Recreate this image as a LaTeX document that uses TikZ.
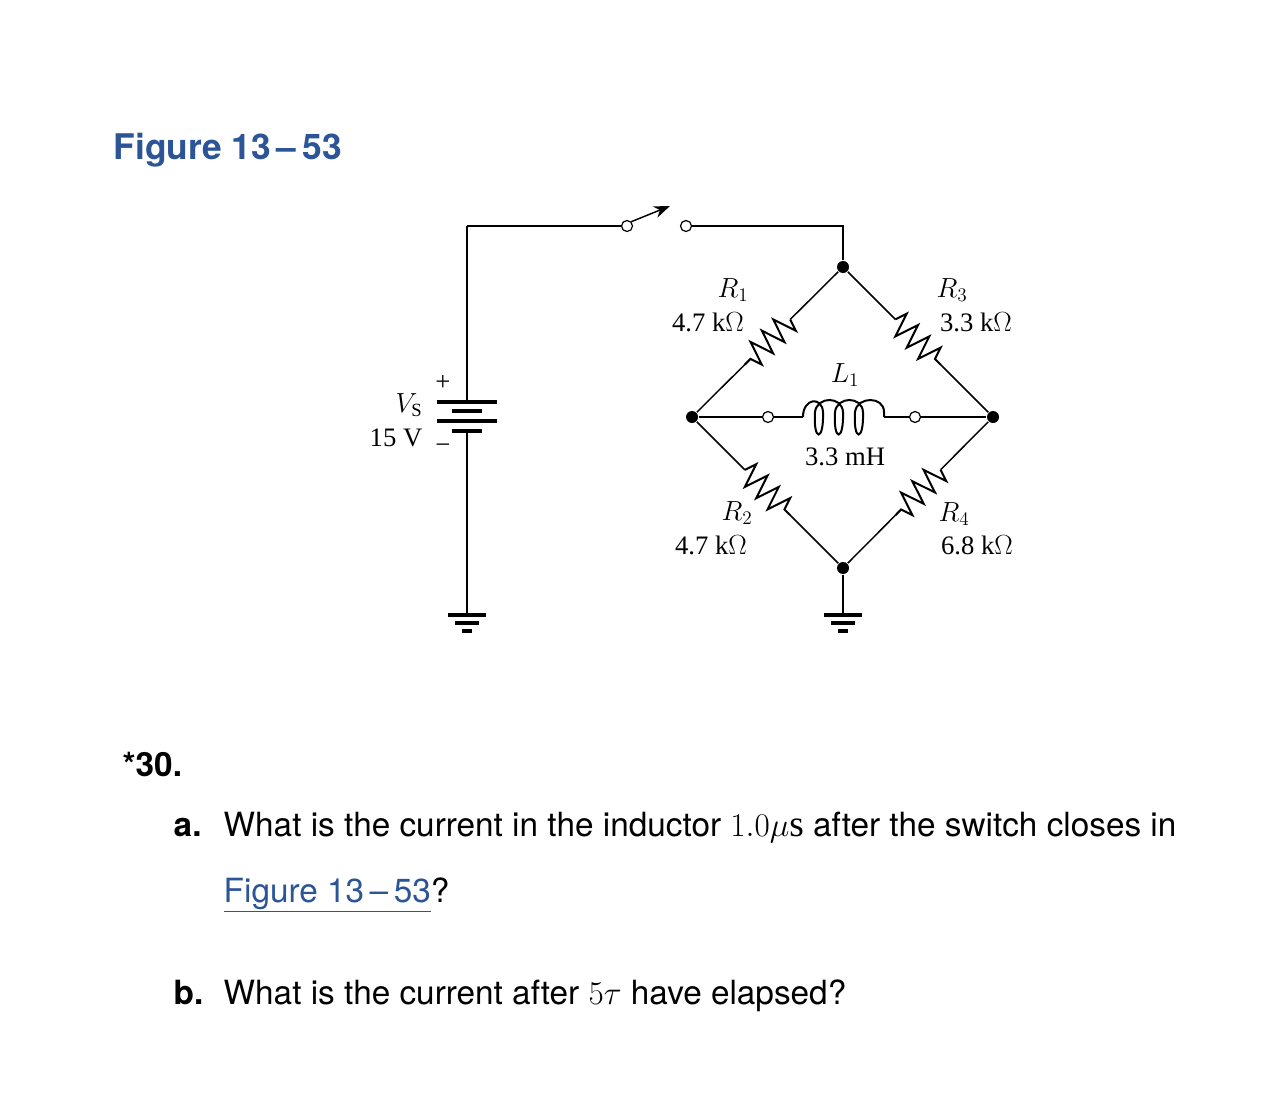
\documentclass[tikz,border=0pt]{standalone}
\usepackage{fontspec}
\setmainfont{Liberation Serif}
\newfontfamily\sans{TeX Gyre Heros}
\usetikzlibrary{calc,decorations.pathmorphing,arrows.meta}
\definecolor{fblue}{HTML}{2B5597}
\begin{document}
\begin{tikzpicture}[x=0.75pt,y=-0.75pt,line width=1.1pt,
  dot/.style={circle,fill=black,inner sep=0pt,minimum size=12pt*0.75},
  term/.style={circle,draw,fill=white,inner sep=0pt,minimum size=11pt*0.75,line width=0.9pt},
  lab/.style={font=\fontsize{20}{22}\selectfont,inner sep=0pt},
  res/.style={decorate,decoration={zigzag,segment length=12pt,amplitude=9pt},line width=1.5pt},
  body/.style={font=\sans\fontsize{25}{28}\selectfont,anchor=base west,inner sep=0pt}]
\useasboundingbox (0,0) rectangle (1276,1106);
\node[font=\sans\bfseries\fontsize{26.5}{28}\selectfont,text=fblue,anchor=base west,inner sep=0pt] (title) at (113,159) {Figure 13\,–\,53};
% nodes
\coordinate (tl) at (467,226);
\node[term] (s1) at (627,226) {};
\node[term] (s2) at (686,226) {};
\coordinate (tr) at (843,226);
\node[dot] (T) at (843,267) {};
\node[dot] (L) at (692,417) {};
\node[dot] (R) at (993,417) {};
\node[dot] (B) at (843,568) {};
\node[term] (i1) at (768,417) {};
\node[term] (i2) at (915,417) {};
\coordinate (c1) at (803,417);
\coordinate (c2) at (884,417);
% switch
\draw (tl) -- (s1);
\draw[-{Stealth[length=12pt,width=9pt]}] (s1.north east) -- (670,206);
\draw (s2) -- (tr) -- (T);
% resistors
\foreach \a/\b/\n in {T/L/1,L/B/2,T/R/3,R/B/4}{
  \coordinate (r\n a) at ($(\a)!0.5!(\b)!24pt!(\a)$);
  \coordinate (r\n b) at ($(\a)!0.5!(\b)!24pt!(\b)$);
  \draw (\a) -- (r\n a);
  \draw[res] (r\n a) -- (r\n b);
  \draw (r\n b) -- (\b);
}
% inductor
\draw[line width=1.5pt] (c1) .. controls (803,398) and (822,396) .. (823,412)
  .. controls (824,442) and (813,442) .. (815,412)
  .. controls (817,396) and (842,396) .. (843,412)
  .. controls (844,442) and (833,442) .. (835,412)
  .. controls (837,396) and (862,396) .. (863,412)
  .. controls (864,442) and (853,442) .. (855,412)
  .. controls (857,396) and (884,396) .. (884,412) -- (c2);
\draw (L) -- (i1) -- (c1);
\draw (c2) -- (i2) -- (R);
% battery
\coordinate (bt) at (467,402);
\coordinate (bb) at (467,431);
\coordinate (g1) at (467,615);
\coordinate (g2) at (843,615);
\draw (tl) -- (bt);
\draw (bb) -- (g1);
\draw[line width=3pt] (437,402) -- (497,402) (452,411) -- (482,411) (437,421) -- (497,421) (452,431) -- (482,431);
\draw (B) -- (g2);
\foreach \g in {g1,g2}{
  \draw[line width=2.5pt] ($(\g)+(-19,0)$) -- ($(\g)+(19,0)$)
    ($(\g)+(-12,8)$) -- ($(\g)+(12,8)$) ($(\g)+(-5,16)$) -- ($(\g)+(5,16)$);
}
% labels
\node[lab] (pl) at (443,383) {+};
\node[lab] (mi) at (443,449) {\textminus};
\node[lab] (vs) at (409,405) {$V_{\mathrm S}$};
\node[lab] (v15) at (396,438) {15 V};
\node[lab] (l1) at (733,290) {$R_1$};
\node[lab] (l1v) at (708,322) {4.7 k$\Omega$};
\node[lab] (l3) at (952,290) {$R_3$};
\node[lab] (l3v) at (976,322) {3.3 k$\Omega$};
\node[lab] (l2) at (737,513) {$R_2$};
\node[lab] (l2v) at (711,545) {4.7 k$\Omega$};
\node[lab] (l4) at (954,514) {$R_4$};
\node[lab] (l4v) at (977,545) {6.8 k$\Omega$};
\node[lab] (ll) at (845,375) {$L_1$};
\node[lab] (llv) at (845,457) {3.3 mH};
% text
\node[body,font=\sans\bfseries\fontsize{25}{28}\selectfont] (q) at (122,776) {*30.};
\node[body,font=\sans\bfseries\fontsize{25}{28}\selectfont] (qa) at (173,836) {a.};
\node[body] (ta) at (223,836) {What is the current in the inductor {\rmfamily\fontsize{28}{30}\selectfont$1.0\mu$s} after the switch closes in};
\node[body,text=fblue] (lk) at (223,902) {\underline{Figure 13\,–\,53}\textcolor{black}{?}};
\node[body,font=\sans\bfseries\fontsize{25}{28}\selectfont] (qb) at (173,1004) {b.};
\node[body] (tb) at (223,1004) {What is the current after {\rmfamily\fontsize{28}{30}\selectfont$5\tau$} have elapsed?};
\end{tikzpicture}
\end{document}
